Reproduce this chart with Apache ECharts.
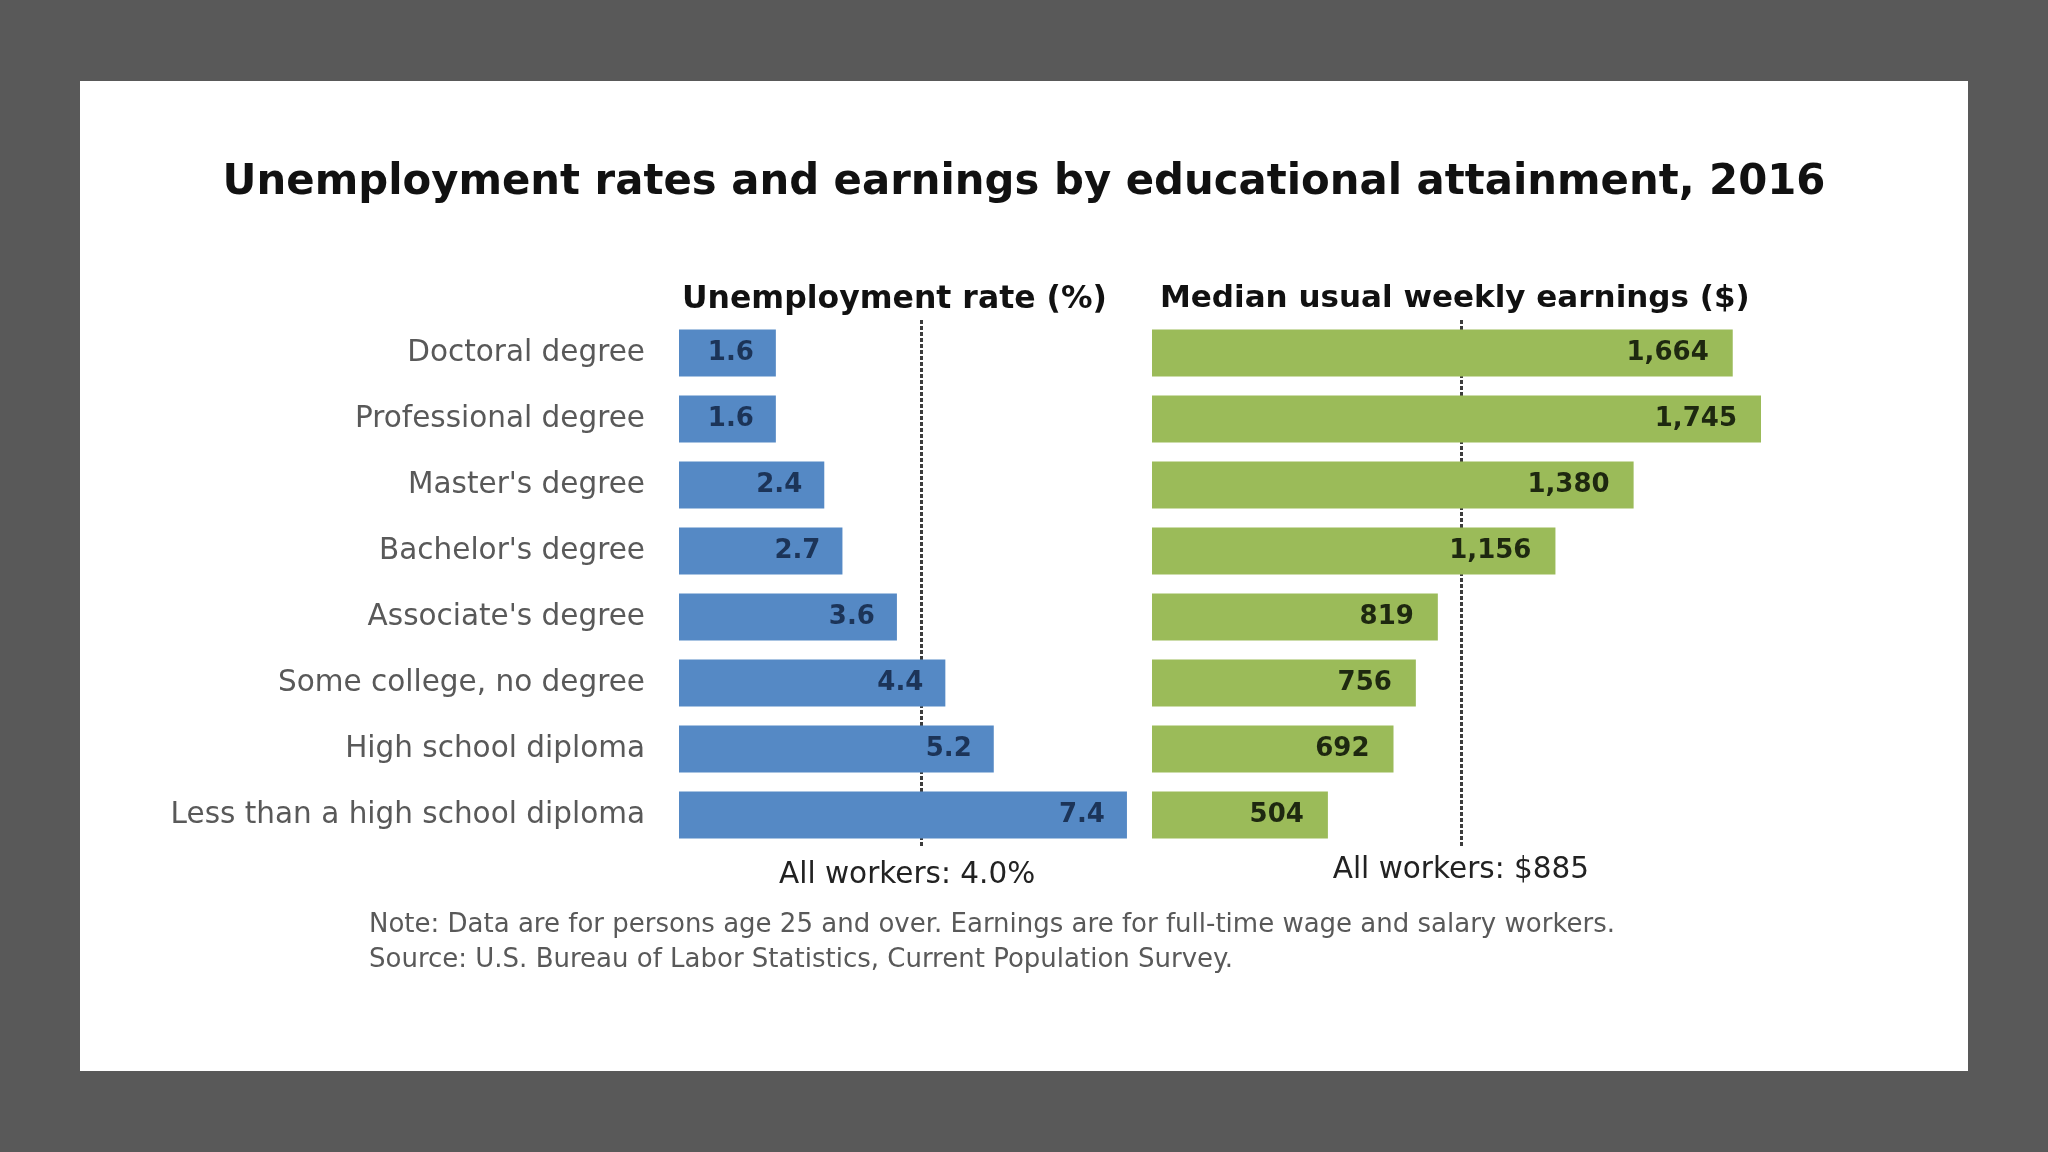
<!DOCTYPE html>
<html>
<head>
<meta charset="utf-8">
<script src="https://cdn.jsdelivr.net/npm/echarts@6/dist/echarts.min.js"></script>
<style>
  html, body { margin: 0; padding: 0; background: #595959; }
  .page { position: relative; width: 2048px; height: 1152px; background: #595959; }
  .panel { position: absolute; left: 80px; top: 81px; width: 1888px; height: 990px; background: #fff; }
  #chart { position: absolute; left: 0; top: 0; width: 2048px; height: 1152px; }
</style>
</head>
<body>
<div class="page">
  <div class="panel"></div>
  <div id="chart"></div>
</div>
<script>
  // education levels, top to bottom
  var categories = [
    'Doctoral degree',
    'Professional degree',
    "Master's degree",
    "Bachelor's degree",
    "Associate's degree",
    'Some college, no degree',
    'High school diploma',
    'Less than a high school diploma'
  ];
  var unemploymentRate = [1.6, 1.6, 2.4, 2.7, 3.6, 4.4, 5.2, 7.4];
  var weeklyEarnings = [1664, 1745, 1380, 1156, 819, 756, 692, 504];
  var allWorkersRate = 4.0;
  var allWorkersEarnings = 885;

  var labelFont = 'DejaVu Sans';

  var chart = echarts.init(document.getElementById('chart'));

  var dashLine = { type: [4, 2], color: '#3c3c3c', width: 3 };

  var option = {
    backgroundColor: 'transparent',
    animation: false,
    title: [
      {
        text: 'Unemployment rates and earnings by educational attainment, 2016',
        left: 'center',
        top: 157,
        textStyle: { fontFamily: labelFont, fontWeight: 'bold', fontSize: 41.8, color: '#111' }
      },
      {
        text: 'Unemployment rate (%)',
        left: 677,
        top: 279,
        textStyle: { fontFamily: labelFont, fontWeight: 'bold', fontSize: 31.5, color: '#111' }
      },
      {
        text: 'Median usual weekly earnings ($)',
        left: 1155,
        top: 278,
        textStyle: { fontFamily: labelFont, fontWeight: 'bold', fontSize: 31, color: '#111' }
      },
      {
        text: 'Note: Data are for persons age 25 and over. Earnings are for full-time wage and salary workers.\nSource: U.S. Bureau of Labor Statistics, Current Population Survey.',
        left: 364,
        top: 903,
        textStyle: { fontFamily: labelFont, fontWeight: 'normal', fontSize: 26, color: '#595959', lineHeight: 35 }
      }
    ],
    grid: [
      { left: 679, top: 320, width: 454, height: 528 },
      { left: 1152, top: 320, width: 698, height: 528 }
    ],
    xAxis: [
      { gridIndex: 0, type: 'value', min: 0, max: 7.5, show: false },
      { gridIndex: 1, type: 'value', min: 0, max: 2000, show: false }
    ],
    yAxis: [
      {
        gridIndex: 0,
        type: 'category',
        data: categories,
        inverse: true,
        axisLine: { show: false },
        axisTick: { show: false },
        axisLabel: { margin: 34, color: '#595959', fontSize: 29.5, fontFamily: labelFont }
      },
      { gridIndex: 1, type: 'category', data: categories, inverse: true, show: false }
    ],
    series: [
      {
        name: 'Unemployment rate',
        type: 'bar',
        xAxisIndex: 0,
        yAxisIndex: 0,
        barWidth: 47,
        data: unemploymentRate,
        itemStyle: { color: '#5589c5' },
        label: {
          show: true,
          position: 'insideRight',
          distance: 22,
          fontFamily: labelFont,
          fontWeight: 'bold',
          fontSize: 26,
          color: '#1c3458',
          formatter: function (p) { return p.value.toFixed(1); }
        },
        markLine: {
          silent: true,
          z: 1,
          symbol: 'none',
          lineStyle: dashLine,
          label: {
            show: true,
            position: 'end',
            distance: 8,
            padding: [4, 28, 0, 0],
            fontFamily: labelFont,
            fontSize: 29.5,
            color: '#222',
            formatter: 'All workers: ' + allWorkersRate.toFixed(1) + '%'
          },
          data: [{ xAxis: allWorkersRate }]
        }
      },
      {
        name: 'Median usual weekly earnings',
        type: 'bar',
        xAxisIndex: 1,
        yAxisIndex: 1,
        barWidth: 47,
        data: weeklyEarnings,
        itemStyle: { color: '#9bbb59' },
        label: {
          show: true,
          position: 'insideRight',
          distance: 24,
          fontFamily: labelFont,
          fontWeight: 'bold',
          fontSize: 26,
          color: '#1e2810',
          formatter: function (p) { return p.value.toLocaleString('en-US'); }
        },
        markLine: {
          silent: true,
          z: 1,
          symbol: 'none',
          lineStyle: dashLine,
          label: {
            show: true,
            position: 'end',
            distance: 5,
            padding: [2, 0, 0, 0],
            fontFamily: labelFont,
            fontSize: 29.5,
            color: '#222',
            formatter: 'All workers: $' + allWorkersEarnings
          },
          data: [{ xAxis: allWorkersEarnings }]
        }
      }
    ]
  };

  chart.setOption(option);
  window.addEventListener('resize', function () {
    chart.resize();
  });
</script>
</body>
</html>
